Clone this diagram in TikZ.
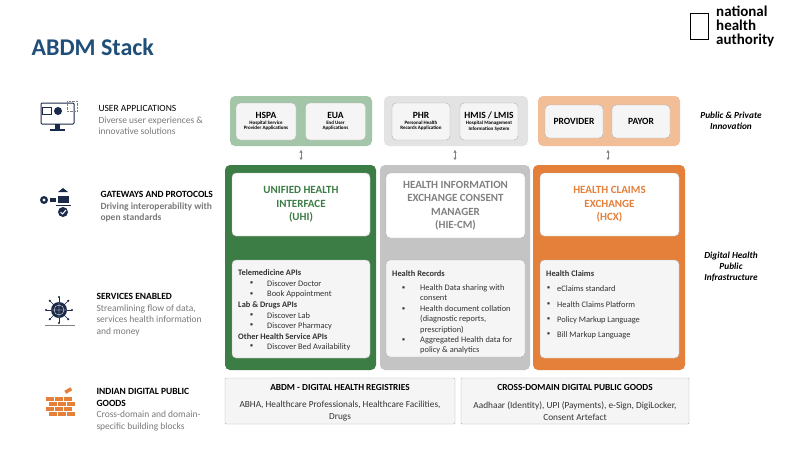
\documentclass[tikz,border=0pt]{standalone}
\usepackage{fontspec}
\setmainfont{Carlito}
\usetikzlibrary{arrows.meta}
\definecolor{dgreen}{HTML}{3B7D45}
\definecolor{lgreen}{HTML}{A3C6A8}
\definecolor{dgrey}{HTML}{C4C4C4}
\definecolor{lgrey}{HTML}{E3E3E3}
\definecolor{dorange}{HTML}{E5803A}
\definecolor{lorange}{HTML}{F2BE98}
\definecolor{tblue}{HTML}{1F4E79}
\definecolor{txt}{HTML}{333333}
\definecolor{sub}{HTML}{7A7A7A}
\definecolor{navy}{HTML}{1C2A4A}
\definecolor{shd}{HTML}{B0B0B0}
\begin{document}
\begin{tikzpicture}[x=1pt,y=-1pt,
  panel/.style={rounded corners=5pt},
  wbox/.style={fill=white,rounded corners=4pt,draw=shd,line width=0.4pt},
  ibox/.style={fill=white!96!black,rounded corners=4pt,draw=shd,line width=0.4pt},
  appbox/.style={ibox,minimum height=37pt,align=center,inner sep=1pt,font=\fontsize{5}{5.6}\selectfont\bfseries},
  lhead/.style={anchor=north west,align=left,font=\fontsize{9.5}{11.5}\selectfont,text=black},
  rlab/.style={align=center,font=\fontsize{9.3}{11}\selectfont\bfseries\itshape,text=black},
  arr/.style={{Triangle[length=2.5pt,width=3pt]}-{Triangle[length=2.5pt,width=3pt]},gray,line width=0.5pt}]
\useasboundingbox (0,0) rectangle (800,448);
\fill[white] (0,0) rectangle (800,448);
% title and logo
\node[anchor=west,text=tblue,font=\fontsize{24}{26}\selectfont\bfseries] (title) at (28,47) {ABDM Stack};
\node[anchor=north west,align=left,font=\fontsize{15}{14}\selectfont\bfseries,text=black,inner sep=0pt] (logo) at (716,6) {national\\health\\authority};
\node[draw=black,line width=0.5pt,minimum width=18pt,minimum height=26pt,inner sep=0pt] (emb) at (699,26) {};
% top app panels
\fill[lgreen,panel] (230,96) rectangle (372,146);
\fill[lgrey,panel] (384,96) rectangle (528,146);
\fill[lorange,panel] (538,96) rectangle (680,146);
\node[appbox,minimum width=60pt] (hspa) at (266,121.5) {{\fontsize{9.5}{10}\selectfont HSPA}\\Hospital Service\\Provider Applications};
\node[appbox,minimum width=60pt] (eua) at (335.5,121.5) {{\fontsize{9.5}{10}\selectfont EUA}\\End User\\Applications};
\node[appbox,minimum width=58pt] (phr) at (421,121.5) {{\fontsize{9.5}{10}\selectfont PHR}\\Personal Health\\Records Application};
\node[appbox,minimum width=58pt] (hmis) at (489,121.5) {{\fontsize{9.5}{10}\selectfont HMIS / LMIS}\\Hospital Management\\Information System};
\node[ibox,minimum width=58pt,minimum height=33pt,font=\fontsize{9.5}{10}\selectfont\bfseries] (prov) at (574,121.5) {PROVIDER};
\node[ibox,minimum width=58pt,minimum height=33pt,font=\fontsize{9.5}{10}\selectfont\bfseries] (payor) at (641,121.5) {PAYOR};
% big columns
\fill[dgreen,panel] (225,165) rectangle (376,370);
\fill[dgrey,panel] (380,165) rectangle (530,370);
\fill[dorange,panel] (533,165) rectangle (685,370);
\coordinate (ga) at (301,150); \coordinate (gb) at (301,160);
\coordinate (ha) at (455,150); \coordinate (hb) at (455,160);
\coordinate (oa) at (608,150); \coordinate (ob) at (608,160);
\draw[arr] (ga) -- (gb); \draw[arr] (ha) -- (hb); \draw[arr] (oa) -- (ob);
\node[wbox,minimum width=138pt,minimum height=63pt,align=center,text=dgreen,font=\fontsize{11}{13.5}\selectfont\bfseries] (uhi) at (301,204.5) {UNIFIED HEALTH\\INTERFACE\\(UHI)};
\node[wbox,minimum width=139pt,minimum height=65pt,align=center,text=gray,font=\fontsize{11}{13.5}\selectfont\bfseries] (hie) at (455.5,205.5) {HEALTH INFORMATION\\EXCHANGE CONSENT\\MANAGER\\(HIE-CM)};
\node[wbox,minimum width=139pt,minimum height=63pt,align=center,text=dorange,font=\fontsize{11}{13.5}\selectfont\bfseries] (hcx) at (609.5,204.5) {HEALTH CLAIMS\\EXCHANGE\\(HCX)};
% lower service boxes
\node[ibox,minimum width=138pt,minimum height=98pt] (s1) at (301,309) {};
\node[ibox,minimum width=139pt,minimum height=97pt] (s2) at (455.5,308.5) {};
\node[ibox,minimum width=139pt,minimum height=98pt] (s3) at (609.5,309) {};
\begin{scope}[every node/.style={anchor=west,inner sep=0pt,font=\fontsize{8.4}{10.6}\selectfont,text=txt}]
\node[font=\fontsize{8.4}{9}\selectfont\bfseries] (t1) at (238,273) {Telemedicine APIs};
\node (t2) at (250,284) {▪}; \node (t2b) at (267,284) {Discover Doctor};
\node (t3) at (250,294.5) {▪}; \node (t3b) at (267,294.5) {Book Appointment};
\node[font=\fontsize{8.4}{9}\selectfont\bfseries] (t4) at (238,305) {Lab \& Drugs APIs};
\node (t5) at (250,315.5) {▪}; \node (t5b) at (267,315.5) {Discover Lab};
\node (t6) at (250,326) {▪}; \node (t6b) at (267,326) {Discover Pharmacy};
\node[font=\fontsize{8.4}{9}\selectfont\bfseries] (t7) at (238,336.5) {Other Health Service APIs};
\node (t8) at (250,347) {▪}; \node (t8b) at (267,347) {Discover Bed Availability};
\node[font=\fontsize{8.4}{9}\selectfont\bfseries] (h1) at (392,274) {Health Records};
\node (h2) at (402,289) {▪}; \node[anchor=north west,align=left] (h2b) at (420,284) {Health Data sharing with\\consent};
\node (h3) at (402,310) {▪}; \node[anchor=north west,align=left] (h3b) at (420,305) {Health document collation\\(diagnostic reports,\\prescription)};
\node (h4) at (402,341) {▪}; \node[anchor=north west,align=left] (h4b) at (420,336) {Aggregated Health data for\\policy \& analytics};
\node[font=\fontsize{8.4}{9}\selectfont\bfseries] (c1) at (546,274) {Health Claims};
\node (c2) at (547,289) {▪}; \node (c2b) at (557,289) {eClaims standard};
\node (c3) at (547,304.5) {▪}; \node (c3b) at (557,304.5) {Health Claims Platform};
\node (c4) at (547,320) {▪}; \node (c4b) at (557,320) {Policy Markup Language};
\node (c5) at (547,335) {▪}; \node (c5b) at (557,335) {Bill Markup Language};
\end{scope}
% bottom boxes
\node[ibox,minimum width=230pt,minimum height=46pt,rounded corners=1pt] (b1) at (340,401) {};
\node[ibox,minimum width=228pt,minimum height=46pt,rounded corners=1pt] (b2) at (575,401) {};
\node[font=\fontsize{9.3}{10}\selectfont\bfseries] (b1t) at (340,387) {ABDM - DIGITAL HEALTH REGISTRIES};
\node[align=center,font=\fontsize{9.3}{12.5}\selectfont,text=txt] (b1b) at (340,411) {ABHA, Healthcare Professionals, Healthcare Facilities,\\Drugs};
\node[font=\fontsize{9.3}{10}\selectfont\bfseries] (b2t) at (575,387) {CROSS-DOMAIN DIGITAL PUBLIC GOODS};
\node[align=center,font=\fontsize{9.3}{12.5}\selectfont,text=txt] (b2b) at (575,411) {Aadhaar (Identity), UPI (Payments), e-Sign, DigiLocker,\\Consent Artefact};
% right labels
\node[rlab] (r1) at (731,121) {Public \& Private\\Innovation};
\node[rlab] (r2) at (731,267) {Digital Health\\Public\\Infrastructure};
% left labels
\node[lhead] (l1) at (95,102) {USER APPLICATIONS\\{\color{sub}Diverse user experiences \&}\\{\color{sub}innovative solutions}};
\node[lhead] (l2) at (97,188) {\textbf{GATEWAYS AND PROTOCOLS}\\{\color{sub}\textbf{Driving interoperability with}}\\{\color{sub}\textbf{open standards}}};
\node[lhead] (l3) at (93,290) {\textbf{SERVICES ENABLED}\\{\color{sub}Streamlining flow of data,}\\{\color{sub}services health information}\\{\color{sub}and money}};
\node[lhead] (l4) at (93,385) {\textbf{INDIAN DIGITAL PUBLIC}\\\textbf{GOODS}\\{\color{sub}Cross-domain and domain-}\\{\color{sub}specific building blocks}};
% icon 1: monitor
\draw[navy,line width=1pt,rounded corners=1pt] (41,103) rectangle (74,124);
\fill[navy] (55,124) rectangle (60,129); \fill[navy] (50,129) rectangle (65,131);
\draw[navy,line width=0.8pt] (42,107) rectangle (51,114);
\fill[navy] (58,111) circle (4pt);
\draw[gray,densely dotted] (67,101) rectangle (77,111);
% icon 2: gateway
\fill[navy] (44,200) circle (4pt); \fill[white] (44,200) circle (1.6pt);
\fill[navy] (50,198) rectangle (56,202);
\fill[navy] (58,192) -- (63,188) -- (68,192) -- cycle;
\fill[navy] (58,196) rectangle (69,203);
\draw[navy,line width=0.8pt] (56,205) -- (71,205);
\fill[navy] (63,212) circle (5pt);
\draw[white,line width=1pt] (60.5,212) -- (62.5,214) -- (66,210);
% icon 3: globe
\foreach \a in {0,45,...,315}{\draw[navy,line width=0.6pt] (59,310) -- ++(\a:13); \fill[navy] (59,310) ++(\a:13) circle (1.2pt);}
\fill[navy] (59,310) circle (8pt);
\draw[white,line width=0.3pt] (59,310) circle (5pt) (51,310) -- (67,310) (59,302) -- (59,318);
\draw[gray,line width=0.5pt] (45,325) -- (75,325);
% icon 4: bricks
\foreach \r/\o in {0/0,1/3,2/0,3/3}{\foreach \c in {0,1,2}{\fill[dorange] (46+\o+\c*9,397+\r*5) rectangle ++(7.5,3.6);}}
\fill[dorange,rotate around={30:(68,391)}] (65,389) rectangle ++(7,3.5);
\end{tikzpicture}
\end{document}
